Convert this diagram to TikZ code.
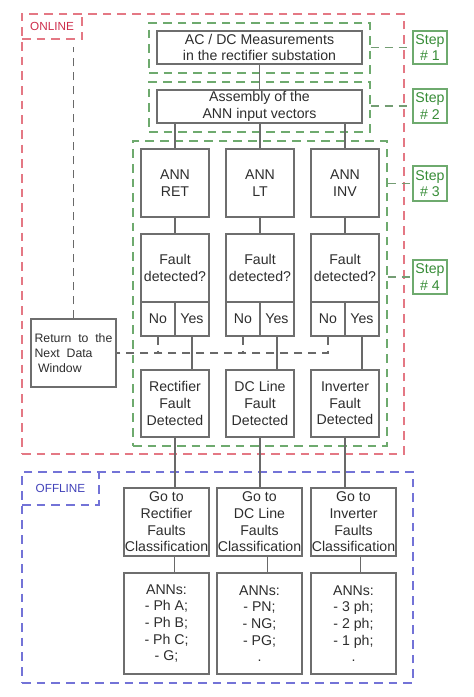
\documentclass[tikz,border=0pt]{standalone}
\usepackage{fontspec}
\setmainfont{Liberation Sans}
\usetikzlibrary{fit}
\definecolor{redc}{RGB}{228,120,132}
\definecolor{redt}{RGB}{205,45,75}
\definecolor{greenc}{RGB}{110,170,110}
\definecolor{greent}{RGB}{55,140,55}
\definecolor{bluec}{RGB}{115,115,215}
\definecolor{bluet}{RGB}{65,65,185}
\definecolor{boxc}{RGB}{110,110,110}
\definecolor{txtc}{RGB}{45,45,45}
\definecolor{linec}{RGB}{105,105,105}
\begin{document}
\begin{tikzpicture}[x=0.75pt,y=-0.75pt,
  sz/.style 2 args={minimum width=#1*0.75pt, minimum height=#2*0.75pt},
  box/.style={draw=boxc, line width=0.8pt, inner sep=0pt, align=center, text=txtc,
    font=\fontsize{10.6}{12.5}\selectfont},
  grp/.style={line width=0.8pt, inner sep=0pt, dash pattern=on 6.5pt off 4.5pt},
  grpline/.style={line width=0.8pt, dash pattern=on 6.5pt off 4.5pt},
  steplbl/.style={draw=greenc, line width=0.8pt, inner sep=0pt, align=center, text=greent,
    font=\fontsize{10.6}{12.5}\selectfont},
  conn/.style={draw=linec, line width=0.8pt},
  dconn/.style={draw=linec, line width=0.8pt, dash pattern=on 6pt off 4.5pt},
  sconn/.style={draw=greenc!70!gray, line width=0.8pt, dash pattern=on 6pt off 4.5pt},
  lbl/.style={inner sep=0pt, font=\fontsize{8.8}{10}\selectfont}
]
\useasboundingbox (0,0) rectangle (474,697);

% ---- group frames ----
\node[grp, draw=redc, fit={(22,14)(404,454)}] (online) {};
\draw[grpline, draw=redc] (22,39) -| (82,14);
\node[lbl, text=redt] (onlbl) at (52,26.5) {ONLINE};

\node[grp, draw=bluec, fit={(22,472)(413,683)}] (offline) {};
\draw[grpline, draw=bluec] (22,505) -| (99,472);
\node[lbl, text=bluet] (offlbl) at (60.5,488.5) {OFFLINE};

\node[grp, draw=greenc, fit={(149,23)(370,73)}] (g1) {};
\node[grp, draw=greenc, fit={(149,82)(370,132)}] (g2) {};
\node[grp, draw=greenc, fit={(133,141)(387,446)}] (g3) {};

% ---- step labels ----
\node[steplbl, sz={34}{33}] (s1) at (430,47.5) {Step\\\# 1};
\node[steplbl, sz={34}{34}] (s2) at (430,106) {Step\\\# 2};
\node[steplbl, sz={34}{35}] (s3) at (430,183.5) {Step\\\# 3};
\node[steplbl, sz={34}{34}] (s4) at (430,277) {Step\\\# 4};

% ---- online boxes ----
\node[box, sz={205}{33}] (ac) at (259.5,47.5) {AC / DC Measurements\\in the rectifier substation};
\node[box, sz={205}{33}] (asm) at (259.5,106.5) {Assembly of the\\ANN input vectors};

\node[box, sz={68}{68}] (annR) at (175,183) {ANN\\RET};
\node[box, sz={68}{68}] (annL) at (260,183) {ANN\\LT};
\node[box, sz={68}{68}] (annI) at (345,183) {ANN\\INV};

\node[box, sz={68}{68}] (fdR) at (175,268) {Fault\\detected?};
\node[box, sz={68}{68}] (fdL) at (260,268) {Fault\\detected?};
\node[box, sz={68}{68}] (fdI) at (345,268) {Fault\\detected?};

\node[box, sz={34}{34}] (noR) at (158,319) {No};
\node[box, sz={34}{34}] (yesR) at (192,319) {Yes};
\node[box, sz={34}{34}] (noL) at (243,319) {No};
\node[box, sz={34}{34}] (yesL) at (277,319) {Yes};
\node[box, sz={34}{34}] (noI) at (328,319) {No};
\node[box, sz={34}{34}] (yesI) at (362,319) {Yes};

\node[box, sz={68}{67}] (resR) at (175,403.5) {Rectifier\\Fault\\Detected};
\node[box, sz={68}{67}] (resL) at (260,403.5) {DC Line\\Fault\\Detected};
\node[box, sz={68}{67}] (resI) at (345,403.5) {Inverter\\Fault\\Detected};

\node[box, sz={85}{68}, align=left, font=\fontsize{9.2}{11.3}\selectfont] (ret) at (73.5,353)
  {Return\ \ to\ \ the\\Next\ \ Data\\\ Window};

% ---- offline boxes ----
\node[box, sz={85}{68}] (goR) at (166.5,522) {Go to\\Rectifier\\Faults\\Classification};
\node[box, sz={85}{68}] (goL) at (259.5,522) {Go to\\DC Line\\Faults\\Classification};
\node[box, sz={85}{68}] (goI) at (353.5,522) {Go to\\Inverter\\Faults\\Classification};

\node[box, sz={85}{101}] (annsR) at (166.5,623.5) {ANNs:\\- Ph A;\\- Ph B;\\- Ph C;\\- G;};
\node[box, sz={85}{101}] (annsL) at (259.5,623.5) {ANNs:\\- PN;\\- NG;\\- PG;\\.};
\node[box, sz={85}{101}] (annsI) at (353.5,623.5) {ANNs:\\- 3 ph;\\- 2 ph;\\- 1 ph;\\.};

% ---- step connectors ----
\draw[sconn] (g1.east |- s1.west) -- (s1.west);
\draw[sconn] (g2.east |- s2.west) -- (s2.west);
\draw[sconn] (g3.east |- s3.west) -- (s3.west);
\draw[sconn] (g3.east |- s4.west) -- (s4.west);

% ---- solid connectors ----
\draw[conn] (ac.south) -- (asm.north);
\draw[conn] (annR.north |- asm.south) -- (annR.north);
\draw[conn] (annL.north |- asm.south) -- (annL.north);
\draw[conn] (annI.north |- asm.south) -- (annI.north);
\draw[conn] (annR.south) -- (fdR.north);
\draw[conn] (annL.south) -- (fdL.north);
\draw[conn] (annI.south) -- (fdI.north);
\draw[conn] (yesR.south) -- (yesR.south |- resR.north);
\draw[conn] (yesL.south) -- (yesL.south |- resL.north);
\draw[conn] (yesI.south) -- (yesI.south |- resI.north);
\draw[conn] (resR.south) -- (resR.south |- goR.north);
\draw[conn] (resL.south) -- (resL.south |- goL.north);
\draw[conn] (resI.south) -- (resI.south |- goI.north);
\draw[conn] ([xshift=6pt]goR.south) -- ([xshift=6pt]goR.south |- annsR.north);
\draw[conn] ([xshift=6pt]goL.south) -- ([xshift=6pt]goL.south |- annsL.north);
\draw[conn] ([xshift=5.5pt]goI.south) -- ([xshift=5.5pt]goI.south |- annsI.north);

% ---- dashed "No" connectors ----
\coordinate (rtop) at (73.5,47);
\draw[dconn] (ret.north) -- (ret.north |- rtop);
\draw[dconn] (noI.south) -- (noI.south |- ret.east) -- (ret.east);
\draw[dconn] (noR.south) -- (noR.south |- ret.east);
\draw[dconn] (noL.south) -- (noL.south |- ret.east);
\end{tikzpicture}
\end{document}
